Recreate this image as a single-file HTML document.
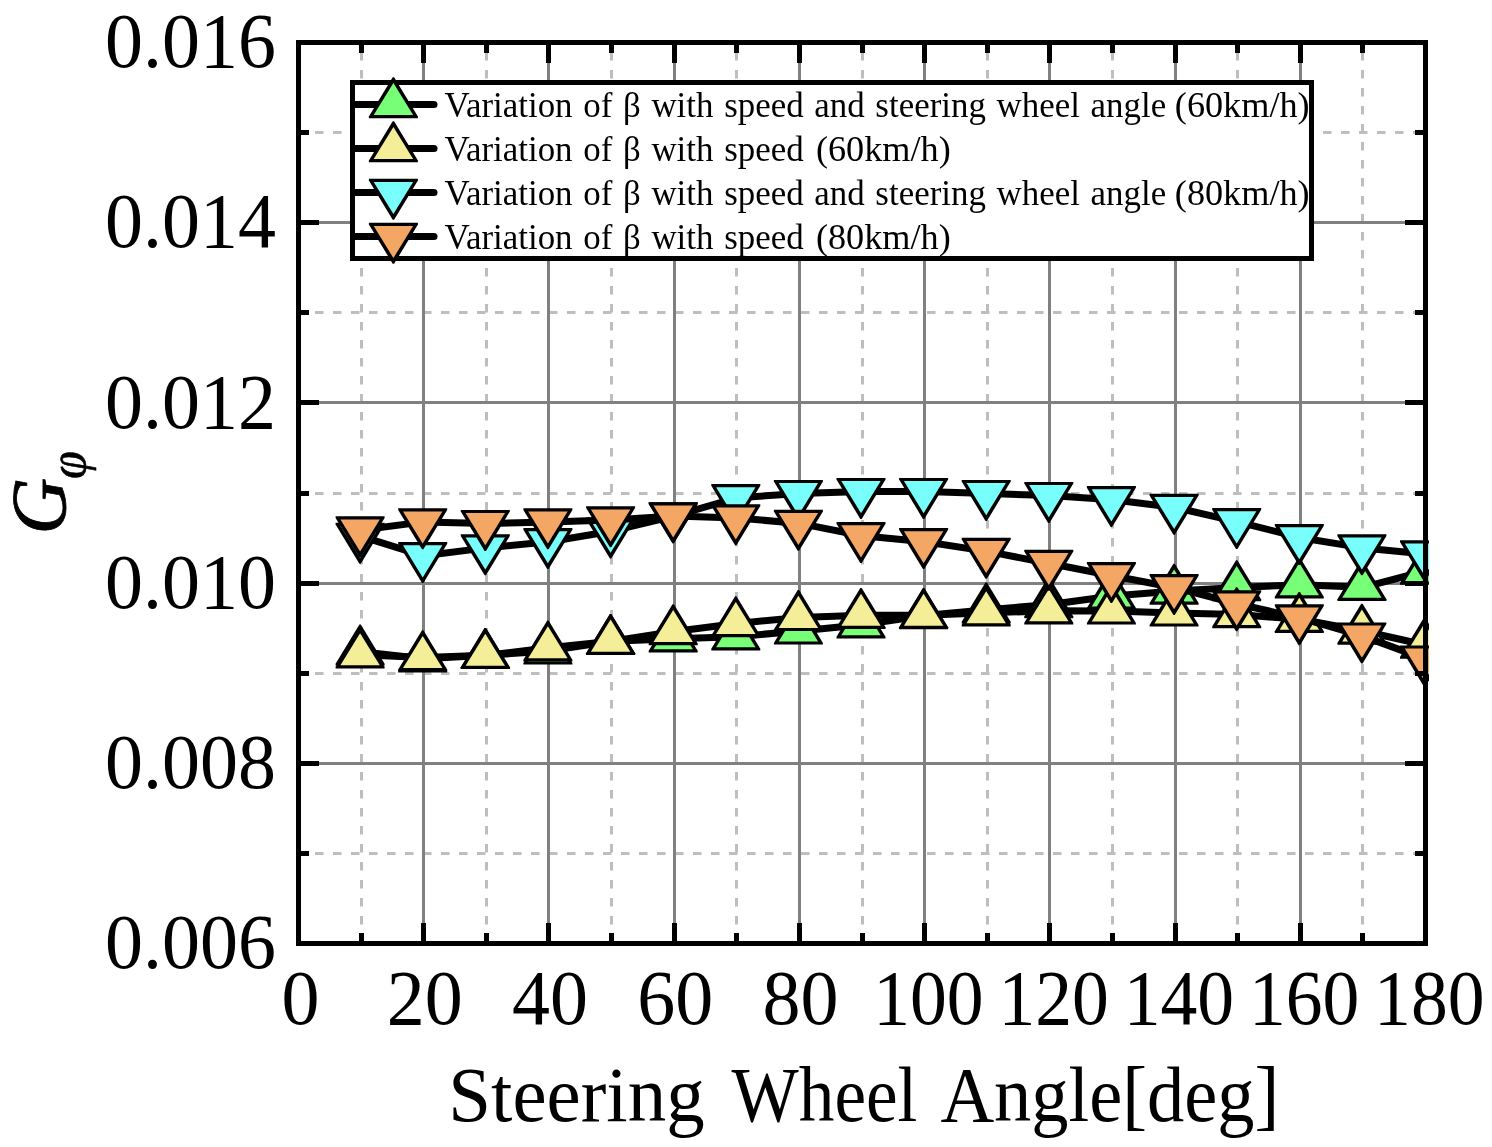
<!DOCTYPE html>
<html lang="en"><head><meta charset="utf-8"><title>G phi vs Steering Wheel Angle</title>
<style>html,body{margin:0;padding:0;background:#fff}svg{display:block}text{font-family:'Liberation Serif', 'Times New Roman', serif;fill:#000}</style>
</head><body>
<svg width="1492" height="1147" viewBox="0 0 1492 1147">
<rect width="1492" height="1147" fill="#fff"/>
<defs><clipPath id="pc"><rect x="296" y="40" width="1133" height="906"/></clipPath></defs>
<g stroke="#bebebe" stroke-width="3" stroke-dasharray="8.5 9.5" fill="none">
<line x1="361.5" y1="45" x2="361.5" y2="941" stroke-dashoffset="-7"/>
<line x1="486.5" y1="45" x2="486.5" y2="941" stroke-dashoffset="-7"/>
<line x1="611.5" y1="45" x2="611.5" y2="941" stroke-dashoffset="-7"/>
<line x1="736.5" y1="45" x2="736.5" y2="941" stroke-dashoffset="-7"/>
<line x1="862.5" y1="45" x2="862.5" y2="941" stroke-dashoffset="-7"/>
<line x1="987.5" y1="45" x2="987.5" y2="941" stroke-dashoffset="-7"/>
<line x1="1112.5" y1="45" x2="1112.5" y2="941" stroke-dashoffset="-7"/>
<line x1="1237.5" y1="45" x2="1237.5" y2="941" stroke-dashoffset="-7"/>
<line x1="1362.5" y1="45" x2="1362.5" y2="941" stroke-dashoffset="-7"/>
<line x1="301" y1="132.5" x2="1423" y2="132.5" stroke-dashoffset="-14"/>
<line x1="301" y1="312.5" x2="1423" y2="312.5" stroke-dashoffset="-14"/>
<line x1="301" y1="493.5" x2="1423" y2="493.5" stroke-dashoffset="-14"/>
<line x1="301" y1="673.5" x2="1423" y2="673.5" stroke-dashoffset="-14"/>
<line x1="301" y1="853.5" x2="1423" y2="853.5" stroke-dashoffset="-14"/>
</g>
<g stroke="#808080" stroke-width="3" fill="none">
<line x1="423.5" y1="45" x2="423.5" y2="941"/>
<line x1="548.5" y1="45" x2="548.5" y2="941"/>
<line x1="674.5" y1="45" x2="674.5" y2="941"/>
<line x1="799.5" y1="45" x2="799.5" y2="941"/>
<line x1="924.5" y1="45" x2="924.5" y2="941"/>
<line x1="1049.5" y1="45" x2="1049.5" y2="941"/>
<line x1="1175.5" y1="45" x2="1175.5" y2="941"/>
<line x1="1300.5" y1="45" x2="1300.5" y2="941"/>
<line x1="301" y1="222.5" x2="1423" y2="222.5"/>
<line x1="301" y1="402.5" x2="1423" y2="402.5"/>
<line x1="301" y1="583.5" x2="1423" y2="583.5"/>
<line x1="301" y1="763.5" x2="1423" y2="763.5"/>
</g>
<g clip-path="url(#pc)">
<polyline points="361.1,651.7 423.7,658.8 486.3,655.3 548.9,650.9 611.6,641.2 674.2,638.7 736.8,636.7 799.4,630.9 862,624.7 924.6,615.5 987.2,609.7 1049.8,604.5 1112.4,596 1175.1,591.1 1237.7,587.5 1300.3,584.7 1362.9,587.3 1425.5,571" fill="none" stroke="#000" stroke-width="7" stroke-linejoin="round" stroke-linecap="round"/>
<polygon points="335.6,665.4 384.6,665.4 384.6,663.7 360.8,624.4 359.4,624.4 335.6,663.7" fill="#000"/><polygon points="340.4,662.2 379.8,662.2 360.1,630.1" fill="#78ff78"/>
<polygon points="398.2,672.5 447.2,672.5 447.2,670.8 423.4,631.5 422,631.5 398.2,670.8" fill="#000"/><polygon points="403,669.3 442.4,669.3 422.7,637.2" fill="#78ff78"/>
<polygon points="460.8,669 509.8,669 509.8,667.3 486,628 484.6,628 460.8,667.3" fill="#000"/><polygon points="465.6,665.8 505,665.8 485.3,633.7" fill="#78ff78"/>
<polygon points="523.4,664.6 572.4,664.6 572.4,662.9 548.6,623.6 547.2,623.6 523.4,662.9" fill="#000"/><polygon points="528.2,661.4 567.6,661.4 547.9,629.3" fill="#78ff78"/>
<polygon points="586.1,654.9 635.1,654.9 635.1,653.2 611.3,613.9 609.9,613.9 586.1,653.2" fill="#000"/><polygon points="590.9,651.7 630.3,651.7 610.6,619.6" fill="#78ff78"/>
<polygon points="648.7,652.4 697.7,652.4 697.7,650.7 673.9,611.4 672.5,611.4 648.7,650.7" fill="#000"/><polygon points="653.5,649.2 692.9,649.2 673.2,617.1" fill="#78ff78"/>
<polygon points="711.3,650.4 760.3,650.4 760.3,648.7 736.5,609.4 735.1,609.4 711.3,648.7" fill="#000"/><polygon points="716.1,647.2 755.5,647.2 735.8,615.1" fill="#78ff78"/>
<polygon points="773.9,644.6 822.9,644.6 822.9,642.9 799.1,603.6 797.7,603.6 773.9,642.9" fill="#000"/><polygon points="778.7,641.4 818.1,641.4 798.4,609.3" fill="#78ff78"/>
<polygon points="836.5,638.4 885.5,638.4 885.5,636.7 861.7,597.4 860.3,597.4 836.5,636.7" fill="#000"/><polygon points="841.3,635.2 880.7,635.2 861,603.1" fill="#78ff78"/>
<polygon points="899.1,629.2 948.1,629.2 948.1,627.5 924.3,588.2 922.9,588.2 899.1,627.5" fill="#000"/><polygon points="903.9,626 943.3,626 923.6,593.9" fill="#78ff78"/>
<polygon points="961.7,623.4 1010.7,623.4 1010.7,621.7 986.9,582.4 985.5,582.4 961.7,621.7" fill="#000"/><polygon points="966.5,620.2 1005.9,620.2 986.2,588.1" fill="#78ff78"/>
<polygon points="1024.3,618.2 1073.3,618.2 1073.3,616.5 1049.5,577.2 1048.1,577.2 1024.3,616.5" fill="#000"/><polygon points="1029.1,615 1068.5,615 1048.8,582.9" fill="#78ff78"/>
<polygon points="1086.9,609.7 1135.9,609.7 1135.9,608 1112.1,568.7 1110.7,568.7 1086.9,608" fill="#000"/><polygon points="1091.7,606.5 1131.1,606.5 1111.4,574.4" fill="#78ff78"/>
<polygon points="1149.6,604.8 1198.6,604.8 1198.6,603.1 1174.8,563.8 1173.4,563.8 1149.6,603.1" fill="#000"/><polygon points="1154.4,601.6 1193.8,601.6 1174.1,569.5" fill="#78ff78"/>
<polygon points="1212.2,601.2 1261.2,601.2 1261.2,599.5 1237.4,560.2 1236,560.2 1212.2,599.5" fill="#000"/><polygon points="1217,598 1256.4,598 1236.7,565.9" fill="#78ff78"/>
<polygon points="1274.8,598.4 1323.8,598.4 1323.8,596.7 1300,557.4 1298.6,557.4 1274.8,596.7" fill="#000"/><polygon points="1279.6,595.2 1319,595.2 1299.3,563.1" fill="#78ff78"/>
<polygon points="1337.4,601 1386.4,601 1386.4,599.3 1362.6,560 1361.2,560 1337.4,599.3" fill="#000"/><polygon points="1342.2,597.8 1381.6,597.8 1361.9,565.7" fill="#78ff78"/>
<polygon points="1400,584.7 1449,584.7 1449,583 1425.2,543.7 1423.8,543.7 1400,583" fill="#000"/><polygon points="1404.8,581.5 1444.2,581.5 1424.5,549.4" fill="#78ff78"/>
<polyline points="361.1,654.8 423.7,657.6 486.3,655.3 548.9,647.8 611.6,641.2 674.2,631.5 736.8,623.5 799.4,617.4 862,615.3 924.6,615.3 987.2,612.8 1049.8,610.8 1112.4,610.9 1175.1,612.9 1237.7,614.6 1300.3,619.3 1362.9,631 1425.5,645" fill="none" stroke="#000" stroke-width="7" stroke-linejoin="round" stroke-linecap="round"/>
<polygon points="335.6,668.5 384.6,668.5 384.6,666.8 360.8,627.5 359.4,627.5 335.6,666.8" fill="#000"/><polygon points="340.4,665.3 379.8,665.3 360.1,633.2" fill="#f4ee98"/>
<polygon points="398.2,671.3 447.2,671.3 447.2,669.6 423.4,630.3 422,630.3 398.2,669.6" fill="#000"/><polygon points="403,668.1 442.4,668.1 422.7,636" fill="#f4ee98"/>
<polygon points="460.8,669 509.8,669 509.8,667.3 486,628 484.6,628 460.8,667.3" fill="#000"/><polygon points="465.6,665.8 505,665.8 485.3,633.7" fill="#f4ee98"/>
<polygon points="523.4,661.5 572.4,661.5 572.4,659.8 548.6,620.5 547.2,620.5 523.4,659.8" fill="#000"/><polygon points="528.2,658.3 567.6,658.3 547.9,626.2" fill="#f4ee98"/>
<polygon points="586.1,654.9 635.1,654.9 635.1,653.2 611.3,613.9 609.9,613.9 586.1,653.2" fill="#000"/><polygon points="590.9,651.7 630.3,651.7 610.6,619.6" fill="#f4ee98"/>
<polygon points="648.7,645.2 697.7,645.2 697.7,643.5 673.9,604.2 672.5,604.2 648.7,643.5" fill="#000"/><polygon points="653.5,642 692.9,642 673.2,609.9" fill="#f4ee98"/>
<polygon points="711.3,637.2 760.3,637.2 760.3,635.5 736.5,596.2 735.1,596.2 711.3,635.5" fill="#000"/><polygon points="716.1,634 755.5,634 735.8,601.9" fill="#f4ee98"/>
<polygon points="773.9,631.1 822.9,631.1 822.9,629.4 799.1,590.1 797.7,590.1 773.9,629.4" fill="#000"/><polygon points="778.7,627.9 818.1,627.9 798.4,595.8" fill="#f4ee98"/>
<polygon points="836.5,629 885.5,629 885.5,627.3 861.7,588 860.3,588 836.5,627.3" fill="#000"/><polygon points="841.3,625.8 880.7,625.8 861,593.7" fill="#f4ee98"/>
<polygon points="899.1,629 948.1,629 948.1,627.3 924.3,588 922.9,588 899.1,627.3" fill="#000"/><polygon points="903.9,625.8 943.3,625.8 923.6,593.7" fill="#f4ee98"/>
<polygon points="961.7,626.5 1010.7,626.5 1010.7,624.8 986.9,585.5 985.5,585.5 961.7,624.8" fill="#000"/><polygon points="966.5,623.3 1005.9,623.3 986.2,591.2" fill="#f4ee98"/>
<polygon points="1024.3,624.5 1073.3,624.5 1073.3,622.8 1049.5,583.5 1048.1,583.5 1024.3,622.8" fill="#000"/><polygon points="1029.1,621.3 1068.5,621.3 1048.8,589.2" fill="#f4ee98"/>
<polygon points="1086.9,624.6 1135.9,624.6 1135.9,622.9 1112.1,583.6 1110.7,583.6 1086.9,622.9" fill="#000"/><polygon points="1091.7,621.4 1131.1,621.4 1111.4,589.3" fill="#f4ee98"/>
<polygon points="1149.6,626.6 1198.6,626.6 1198.6,624.9 1174.8,585.6 1173.4,585.6 1149.6,624.9" fill="#000"/><polygon points="1154.4,623.4 1193.8,623.4 1174.1,591.3" fill="#f4ee98"/>
<polygon points="1212.2,628.3 1261.2,628.3 1261.2,626.6 1237.4,587.3 1236,587.3 1212.2,626.6" fill="#000"/><polygon points="1217,625.1 1256.4,625.1 1236.7,593" fill="#f4ee98"/>
<polygon points="1274.8,633 1323.8,633 1323.8,631.3 1300,592 1298.6,592 1274.8,631.3" fill="#000"/><polygon points="1279.6,629.8 1319,629.8 1299.3,597.7" fill="#f4ee98"/>
<polygon points="1337.4,644.7 1386.4,644.7 1386.4,643 1362.6,603.7 1361.2,603.7 1337.4,643" fill="#000"/><polygon points="1342.2,641.5 1381.6,641.5 1361.9,609.4" fill="#f4ee98"/>
<polygon points="1400,658.7 1449,658.7 1449,657 1425.2,617.7 1423.8,617.7 1400,657" fill="#000"/><polygon points="1404.8,655.5 1444.2,655.5 1424.5,623.4" fill="#f4ee98"/>
<polyline points="361.1,536.4 423.7,555.8 486.3,547.9 548.9,541.7 611.6,531.2 674.2,516 736.8,497.8 799.4,493.6 862,491.6 924.6,491.6 987.2,493.6 1049.8,495.6 1112.4,499.8 1175.1,507.5 1237.7,521.8 1300.3,537.7 1362.9,547.9 1425.5,554" fill="none" stroke="#000" stroke-width="7" stroke-linejoin="round" stroke-linecap="round"/>
<polygon points="335.6,522.7 384.6,522.7 384.6,524.4 360.8,563.7 359.4,563.7 335.6,524.4" fill="#000"/><polygon points="340.4,525.9 379.8,525.9 360.1,558" fill="#78fffc"/>
<polygon points="398.2,542.1 447.2,542.1 447.2,543.8 423.4,583.1 422,583.1 398.2,543.8" fill="#000"/><polygon points="403,545.3 442.4,545.3 422.7,577.4" fill="#78fffc"/>
<polygon points="460.8,534.2 509.8,534.2 509.8,535.9 486,575.2 484.6,575.2 460.8,535.9" fill="#000"/><polygon points="465.6,537.4 505,537.4 485.3,569.5" fill="#78fffc"/>
<polygon points="523.4,528 572.4,528 572.4,529.7 548.6,569 547.2,569 523.4,529.7" fill="#000"/><polygon points="528.2,531.2 567.6,531.2 547.9,563.3" fill="#78fffc"/>
<polygon points="586.1,517.5 635.1,517.5 635.1,519.2 611.3,558.5 609.9,558.5 586.1,519.2" fill="#000"/><polygon points="590.9,520.7 630.3,520.7 610.6,552.8" fill="#78fffc"/>
<polygon points="648.7,502.3 697.7,502.3 697.7,504 673.9,543.3 672.5,543.3 648.7,504" fill="#000"/><polygon points="653.5,505.5 692.9,505.5 673.2,537.6" fill="#78fffc"/>
<polygon points="711.3,484.1 760.3,484.1 760.3,485.8 736.5,525.1 735.1,525.1 711.3,485.8" fill="#000"/><polygon points="716.1,487.3 755.5,487.3 735.8,519.4" fill="#78fffc"/>
<polygon points="773.9,479.9 822.9,479.9 822.9,481.6 799.1,520.9 797.7,520.9 773.9,481.6" fill="#000"/><polygon points="778.7,483.1 818.1,483.1 798.4,515.2" fill="#78fffc"/>
<polygon points="836.5,477.9 885.5,477.9 885.5,479.6 861.7,518.9 860.3,518.9 836.5,479.6" fill="#000"/><polygon points="841.3,481.1 880.7,481.1 861,513.2" fill="#78fffc"/>
<polygon points="899.1,477.9 948.1,477.9 948.1,479.6 924.3,518.9 922.9,518.9 899.1,479.6" fill="#000"/><polygon points="903.9,481.1 943.3,481.1 923.6,513.2" fill="#78fffc"/>
<polygon points="961.7,479.9 1010.7,479.9 1010.7,481.6 986.9,520.9 985.5,520.9 961.7,481.6" fill="#000"/><polygon points="966.5,483.1 1005.9,483.1 986.2,515.2" fill="#78fffc"/>
<polygon points="1024.3,481.9 1073.3,481.9 1073.3,483.6 1049.5,522.9 1048.1,522.9 1024.3,483.6" fill="#000"/><polygon points="1029.1,485.1 1068.5,485.1 1048.8,517.2" fill="#78fffc"/>
<polygon points="1086.9,486.1 1135.9,486.1 1135.9,487.8 1112.1,527.1 1110.7,527.1 1086.9,487.8" fill="#000"/><polygon points="1091.7,489.3 1131.1,489.3 1111.4,521.4" fill="#78fffc"/>
<polygon points="1149.6,493.8 1198.6,493.8 1198.6,495.5 1174.8,534.8 1173.4,534.8 1149.6,495.5" fill="#000"/><polygon points="1154.4,497 1193.8,497 1174.1,529.1" fill="#78fffc"/>
<polygon points="1212.2,508.1 1261.2,508.1 1261.2,509.8 1237.4,549.1 1236,549.1 1212.2,509.8" fill="#000"/><polygon points="1217,511.3 1256.4,511.3 1236.7,543.4" fill="#78fffc"/>
<polygon points="1274.8,524 1323.8,524 1323.8,525.7 1300,565 1298.6,565 1274.8,525.7" fill="#000"/><polygon points="1279.6,527.2 1319,527.2 1299.3,559.3" fill="#78fffc"/>
<polygon points="1337.4,534.2 1386.4,534.2 1386.4,535.9 1362.6,575.2 1361.2,575.2 1337.4,535.9" fill="#000"/><polygon points="1342.2,537.4 1381.6,537.4 1361.9,569.5" fill="#78fffc"/>
<polygon points="1400,540.3 1449,540.3 1449,542 1425.2,581.3 1423.8,581.3 1400,542" fill="#000"/><polygon points="1404.8,543.5 1444.2,543.5 1424.5,575.6" fill="#78fffc"/>
<polyline points="361.1,530 423.7,521.9 486.3,523.6 548.9,521.9 611.6,519.9 674.2,515.9 736.8,517.9 799.4,523.4 862,535.8 924.6,541.7 987.2,551.4 1049.8,563.5 1112.4,575.8 1175.1,587.7 1237.7,604 1300.3,618 1362.9,636.1 1425.5,659.1" fill="none" stroke="#000" stroke-width="7" stroke-linejoin="round" stroke-linecap="round"/>
<polygon points="335.6,516.3 384.6,516.3 384.6,518 360.8,557.3 359.4,557.3 335.6,518" fill="#000"/><polygon points="340.4,519.5 379.8,519.5 360.1,551.6" fill="#f4a764"/>
<polygon points="398.2,508.2 447.2,508.2 447.2,509.9 423.4,549.2 422,549.2 398.2,509.9" fill="#000"/><polygon points="403,511.4 442.4,511.4 422.7,543.5" fill="#f4a764"/>
<polygon points="460.8,509.9 509.8,509.9 509.8,511.6 486,550.9 484.6,550.9 460.8,511.6" fill="#000"/><polygon points="465.6,513.1 505,513.1 485.3,545.2" fill="#f4a764"/>
<polygon points="523.4,508.2 572.4,508.2 572.4,509.9 548.6,549.2 547.2,549.2 523.4,509.9" fill="#000"/><polygon points="528.2,511.4 567.6,511.4 547.9,543.5" fill="#f4a764"/>
<polygon points="586.1,506.2 635.1,506.2 635.1,507.9 611.3,547.2 609.9,547.2 586.1,507.9" fill="#000"/><polygon points="590.9,509.4 630.3,509.4 610.6,541.5" fill="#f4a764"/>
<polygon points="648.7,502.2 697.7,502.2 697.7,503.9 673.9,543.2 672.5,543.2 648.7,503.9" fill="#000"/><polygon points="653.5,505.4 692.9,505.4 673.2,537.5" fill="#f4a764"/>
<polygon points="711.3,504.2 760.3,504.2 760.3,505.9 736.5,545.2 735.1,545.2 711.3,505.9" fill="#000"/><polygon points="716.1,507.4 755.5,507.4 735.8,539.5" fill="#f4a764"/>
<polygon points="773.9,509.7 822.9,509.7 822.9,511.4 799.1,550.7 797.7,550.7 773.9,511.4" fill="#000"/><polygon points="778.7,512.9 818.1,512.9 798.4,545" fill="#f4a764"/>
<polygon points="836.5,522.1 885.5,522.1 885.5,523.8 861.7,563.1 860.3,563.1 836.5,523.8" fill="#000"/><polygon points="841.3,525.3 880.7,525.3 861,557.4" fill="#f4a764"/>
<polygon points="899.1,528 948.1,528 948.1,529.7 924.3,569 922.9,569 899.1,529.7" fill="#000"/><polygon points="903.9,531.2 943.3,531.2 923.6,563.3" fill="#f4a764"/>
<polygon points="961.7,537.7 1010.7,537.7 1010.7,539.4 986.9,578.7 985.5,578.7 961.7,539.4" fill="#000"/><polygon points="966.5,540.9 1005.9,540.9 986.2,573" fill="#f4a764"/>
<polygon points="1024.3,549.8 1073.3,549.8 1073.3,551.5 1049.5,590.8 1048.1,590.8 1024.3,551.5" fill="#000"/><polygon points="1029.1,553 1068.5,553 1048.8,585.1" fill="#f4a764"/>
<polygon points="1086.9,562.1 1135.9,562.1 1135.9,563.8 1112.1,603.1 1110.7,603.1 1086.9,563.8" fill="#000"/><polygon points="1091.7,565.3 1131.1,565.3 1111.4,597.4" fill="#f4a764"/>
<polygon points="1149.6,574 1198.6,574 1198.6,575.7 1174.8,615 1173.4,615 1149.6,575.7" fill="#000"/><polygon points="1154.4,577.2 1193.8,577.2 1174.1,609.3" fill="#f4a764"/>
<polygon points="1212.2,590.3 1261.2,590.3 1261.2,592 1237.4,631.3 1236,631.3 1212.2,592" fill="#000"/><polygon points="1217,593.5 1256.4,593.5 1236.7,625.6" fill="#f4a764"/>
<polygon points="1274.8,604.3 1323.8,604.3 1323.8,606 1300,645.3 1298.6,645.3 1274.8,606" fill="#000"/><polygon points="1279.6,607.5 1319,607.5 1299.3,639.6" fill="#f4a764"/>
<polygon points="1337.4,622.4 1386.4,622.4 1386.4,624.1 1362.6,663.4 1361.2,663.4 1337.4,624.1" fill="#000"/><polygon points="1342.2,625.6 1381.6,625.6 1361.9,657.7" fill="#f4a764"/>
<polygon points="1400,645.4 1449,645.4 1449,647.1 1425.2,686.4 1423.8,686.4 1400,647.1" fill="#000"/><polygon points="1404.8,648.6 1444.2,648.6 1424.5,680.7" fill="#f4a764"/>
</g>
<g stroke="#000" stroke-width="5" fill="none">
<line x1="361.5" y1="42.5" x2="361.5" y2="53"/>
<line x1="361.5" y1="943.5" x2="361.5" y2="933"/>
<line x1="423.5" y1="42.5" x2="423.5" y2="63"/>
<line x1="423.5" y1="943.5" x2="423.5" y2="923"/>
<line x1="486.5" y1="42.5" x2="486.5" y2="53"/>
<line x1="486.5" y1="943.5" x2="486.5" y2="933"/>
<line x1="548.5" y1="42.5" x2="548.5" y2="63"/>
<line x1="548.5" y1="943.5" x2="548.5" y2="923"/>
<line x1="611.5" y1="42.5" x2="611.5" y2="53"/>
<line x1="611.5" y1="943.5" x2="611.5" y2="933"/>
<line x1="674.5" y1="42.5" x2="674.5" y2="63"/>
<line x1="674.5" y1="943.5" x2="674.5" y2="923"/>
<line x1="736.5" y1="42.5" x2="736.5" y2="53"/>
<line x1="736.5" y1="943.5" x2="736.5" y2="933"/>
<line x1="799.5" y1="42.5" x2="799.5" y2="63"/>
<line x1="799.5" y1="943.5" x2="799.5" y2="923"/>
<line x1="862.5" y1="42.5" x2="862.5" y2="53"/>
<line x1="862.5" y1="943.5" x2="862.5" y2="933"/>
<line x1="924.5" y1="42.5" x2="924.5" y2="63"/>
<line x1="924.5" y1="943.5" x2="924.5" y2="923"/>
<line x1="987.5" y1="42.5" x2="987.5" y2="53"/>
<line x1="987.5" y1="943.5" x2="987.5" y2="933"/>
<line x1="1049.5" y1="42.5" x2="1049.5" y2="63"/>
<line x1="1049.5" y1="943.5" x2="1049.5" y2="923"/>
<line x1="1112.5" y1="42.5" x2="1112.5" y2="53"/>
<line x1="1112.5" y1="943.5" x2="1112.5" y2="933"/>
<line x1="1175.5" y1="42.5" x2="1175.5" y2="63"/>
<line x1="1175.5" y1="943.5" x2="1175.5" y2="923"/>
<line x1="1237.5" y1="42.5" x2="1237.5" y2="53"/>
<line x1="1237.5" y1="943.5" x2="1237.5" y2="933"/>
<line x1="1300.5" y1="42.5" x2="1300.5" y2="63"/>
<line x1="1300.5" y1="943.5" x2="1300.5" y2="923"/>
<line x1="1362.5" y1="42.5" x2="1362.5" y2="53"/>
<line x1="1362.5" y1="943.5" x2="1362.5" y2="933"/>
<line x1="298.5" y1="132.5" x2="309" y2="132.5"/>
<line x1="1425.5" y1="132.5" x2="1415" y2="132.5"/>
<line x1="298.5" y1="222.5" x2="319" y2="222.5"/>
<line x1="1425.5" y1="222.5" x2="1405" y2="222.5"/>
<line x1="298.5" y1="312.5" x2="309" y2="312.5"/>
<line x1="1425.5" y1="312.5" x2="1415" y2="312.5"/>
<line x1="298.5" y1="402.5" x2="319" y2="402.5"/>
<line x1="1425.5" y1="402.5" x2="1405" y2="402.5"/>
<line x1="298.5" y1="493.5" x2="309" y2="493.5"/>
<line x1="1425.5" y1="493.5" x2="1415" y2="493.5"/>
<line x1="298.5" y1="583.5" x2="319" y2="583.5"/>
<line x1="1425.5" y1="583.5" x2="1405" y2="583.5"/>
<line x1="298.5" y1="673.5" x2="309" y2="673.5"/>
<line x1="1425.5" y1="673.5" x2="1415" y2="673.5"/>
<line x1="298.5" y1="763.5" x2="319" y2="763.5"/>
<line x1="1425.5" y1="763.5" x2="1405" y2="763.5"/>
<line x1="298.5" y1="853.5" x2="309" y2="853.5"/>
<line x1="1425.5" y1="853.5" x2="1415" y2="853.5"/>
<rect x="298.5" y="42.5" width="1127" height="901"/>
</g>
<rect x="352.5" y="82.5" width="959" height="176" fill="#fff" stroke="#000" stroke-width="5"/>
<line x1="354" y1="104.5" x2="434" y2="104.5" stroke="#000" stroke-width="7" stroke-linecap="round"/>
<polygon points="368.9,118.2 417.9,118.2 417.9,116.5 394.1,77.2 392.7,77.2 368.9,116.5" fill="#000"/><polygon points="373.7,115 413.1,115 393.4,82.9" fill="#78ff78"/>
<text transform="translate(444.6,116.8) scale(0.97,1)" font-size="36" word-spacing="2">Variation of β with speed and steering wheel angle <tspan x="752.8" textLength="139" lengthAdjust="spacingAndGlyphs">(60km/h)</tspan></text>
<line x1="354" y1="148.5" x2="434" y2="148.5" stroke="#000" stroke-width="7" stroke-linecap="round"/>
<polygon points="368.9,162.2 417.9,162.2 417.9,160.5 394.1,121.2 392.7,121.2 368.9,160.5" fill="#000"/><polygon points="373.7,159 413.1,159 393.4,126.9" fill="#f4ee98"/>
<text transform="translate(444.6,160.8) scale(0.97,1)" font-size="36" word-spacing="2">Variation of β with speed <tspan x="382.8" textLength="139" lengthAdjust="spacingAndGlyphs">(60km/h)</tspan></text>
<line x1="354" y1="192.5" x2="434" y2="192.5" stroke="#000" stroke-width="7" stroke-linecap="round"/>
<polygon points="368.9,178.8 417.9,178.8 417.9,180.5 394.1,219.8 392.7,219.8 368.9,180.5" fill="#000"/><polygon points="373.7,182 413.1,182 393.4,214.1" fill="#78fffc"/>
<text transform="translate(444.6,204.8) scale(0.97,1)" font-size="36" word-spacing="2">Variation of β with speed and steering wheel angle <tspan x="752.8" textLength="139" lengthAdjust="spacingAndGlyphs">(80km/h)</tspan></text>
<line x1="354" y1="236.5" x2="434" y2="236.5" stroke="#000" stroke-width="7" stroke-linecap="round"/>
<polygon points="368.9,222.8 417.9,222.8 417.9,224.5 394.1,263.8 392.7,263.8 368.9,224.5" fill="#000"/><polygon points="373.7,226 413.1,226 393.4,258.1" fill="#f4a764"/>
<text transform="translate(444.6,248.8) scale(0.97,1)" font-size="36" word-spacing="2">Variation of β with speed <tspan x="382.8" textLength="139" lengthAdjust="spacingAndGlyphs">(80km/h)</tspan></text>
<g font-size="78.5">
<text transform="translate(276,968.1) scale(0.968,1)" text-anchor="end">0.006</text>
<text transform="translate(276,787.9) scale(0.968,1)" text-anchor="end">0.008</text>
<text transform="translate(276,607.7) scale(0.968,1)" text-anchor="end">0.010</text>
<text transform="translate(276,427.5) scale(0.968,1)" text-anchor="end">0.012</text>
<text transform="translate(276,247.3) scale(0.968,1)" text-anchor="end">0.014</text>
<text transform="translate(276,67.1) scale(0.968,1)" text-anchor="end">0.016</text>
<text transform="translate(300.5,1024) scale(0.968,1)" text-anchor="middle">0</text>
<text transform="translate(424.7,1024) scale(0.968,1)" text-anchor="middle">20</text>
<text transform="translate(549.9,1024) scale(0.968,1)" text-anchor="middle">40</text>
<text transform="translate(675.2,1024) scale(0.968,1)" text-anchor="middle">60</text>
<text transform="translate(800.4,1024) scale(0.968,1)" text-anchor="middle">80</text>
<text transform="translate(928.4,1024) scale(0.9376,1)" text-anchor="middle">100</text>
<text transform="translate(1053.6,1024) scale(0.9376,1)" text-anchor="middle">120</text>
<text transform="translate(1178.9,1024) scale(0.9376,1)" text-anchor="middle">140</text>
<text transform="translate(1304.1,1024) scale(0.9376,1)" text-anchor="middle">160</text>
<text transform="translate(1429.3,1024) scale(0.9376,1)" text-anchor="middle">180</text>
</g>
<text y="1121" font-size="78.5"><tspan x="448.3" textLength="256.3" lengthAdjust="spacingAndGlyphs">Steering</tspan> <tspan x="731.6" textLength="185.8" lengthAdjust="spacingAndGlyphs">Wheel</tspan> <tspan x="940.4" textLength="338.8" lengthAdjust="spacingAndGlyphs">Angle[deg]</tspan></text>
<text transform="translate(65,534.4) rotate(-90)" font-size="78.5" font-style="italic" stroke="#000" stroke-width="0.8">G</text>
<text transform="translate(85,479.1) rotate(-90) scale(0.95,1)" font-size="53" font-style="italic" stroke="#000" stroke-width="0.6">φ</text>
</svg></body></html>
